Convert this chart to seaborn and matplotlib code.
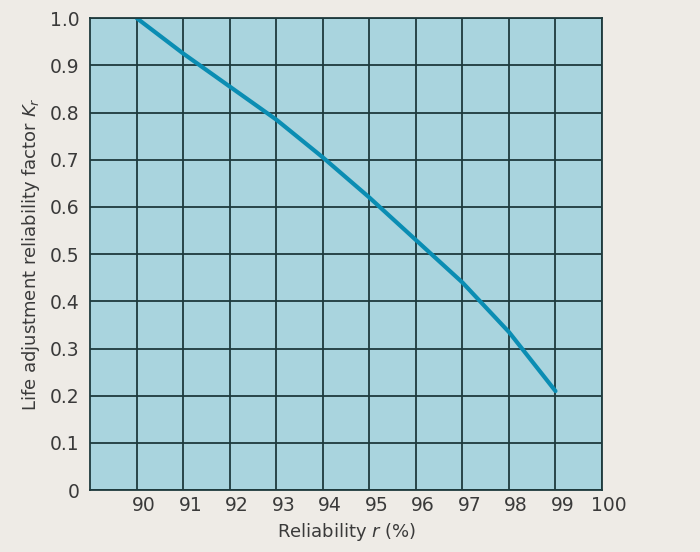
import numpy as np
import pandas as pd
import matplotlib
matplotlib.use("Agg")
import matplotlib.pyplot as plt
import matplotlib.transforms as mtransforms
import seaborn as sns

# values
reliability = [90, 91, 92, 93, 94, 95, 96, 97, 98, 99]
kr = [1.0, 0.925, 0.855, 0.785, 0.705, 0.62, 0.53, 0.44, 0.335, 0.21]
x_ticks = [90, 91, 92, 93, 94, 95, 96, 97, 98, 99, 100]
y_ticks = [0, 0.1, 0.2, 0.3, 0.4, 0.5, 0.6, 0.7, 0.8, 0.9, 1.0]
y_ticklabels = ["0", "0.1", "0.2", "0.3", "0.4", "0.5", "0.6", "0.7", "0.8", "0.9", "1.0"]

df = pd.DataFrame({"r": reliability, "Kr": kr})

sns.set_style("white")
plt.rcParams["font.family"] = ["DejaVu Sans"]

fig = plt.figure(figsize=(7, 5.52), dpi=100)
fig.patch.set_facecolor("#eeebe6")
ax = fig.add_axes([0.129, 0.112, 0.731, 0.855])
ax.set_facecolor("#a9d4de")

sns.lineplot(data=df, x="r", y="Kr", ax=ax, color="#0a8db3", linewidth=3)

ax.set_xlim(89, 100)
ax.set_ylim(0, 1.0)
ax.set_xticks(x_ticks)
ax.set_yticks(y_ticks)
ax.set_yticklabels(y_ticklabels)
ax.grid(True, color="#1e3a3d", linewidth=1.3)
ax.set_axisbelow(True)
for s in ax.spines.values():
    s.set_color("#1e3a3d")
    s.set_linewidth(1.3)
ax.tick_params(length=0, labelsize=13.5, labelcolor="#3a3a3a")
ax.tick_params(axis="y", pad=8)
ax.tick_params(axis="x", pad=4)

# shift x labels a bit to the right like the print
offset = mtransforms.ScaledTranslation(7 / 100, 0, fig.dpi_scale_trans)
for lab in ax.get_xticklabels():
    lab.set_transform(lab.get_transform() + offset)

ax.set_xlabel(r"Reliability $r$ (%)", fontsize=13, color="#3a3a3a")
ax.xaxis.set_label_coords(0.5, -0.065)
ax.set_ylabel(r"Life adjustment reliability factor $K_r$", fontsize=13, color="#3a3a3a")
ax.yaxis.set_label_coords(-0.095, 0.5)

fig.savefig("out.png", dpi=100, facecolor=fig.get_facecolor())
